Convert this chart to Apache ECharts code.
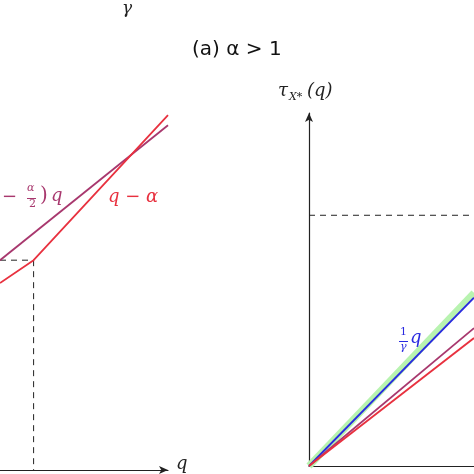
<!DOCTYPE html>
<html><head><meta charset="utf-8">
<script src="https://cdn.jsdelivr.net/npm/echarts@6/dist/echarts.min.js"></script>
<style>html,body{margin:0;background:#fff}#c{width:474px;height:474px}</style>
</head><body><div id="c"></div>
<script>
// left panel (b): q axis, kink at q=3
var leftPurple = [[2, 6.25], [7, 10.27]];
var leftRed = [[2, 5.57], [3, 6.25], [7, 10.57]];
var leftDashH = [[2, 6.25], [3, 6.25]];
var leftDashV = [[3, 6.25], [3, 0]];
// right panel (a): lines through origin
var rightGreen = [[0, 0], [5.2, 5.25]];
var rightBlue = [[0, 0], [5.2, 5.1]];
var rightPurple = [[0, 0], [5.2, 4.18]];
var rightRed = [[0, 0], [5.2, 3.88]];
var rightDash = [[0, 7.6], [5.2, 7.6]];

var purple = '#a8386e', red = '#e8313f', blue = '#2a2ae0';
var chart = echarts.init(document.getElementById('c'));
function ln(data, color, w, gi, dash) {
    return {type: 'line', data: data, xAxisIndex: gi, yAxisIndex: gi, symbol: 'none', silent: true,
        lineStyle: {color: color, width: w, type: dash ? [6, 5] : 'solid'}};
}
var math = 'DejaVu Serif';
chart.setOption({
    animation: false,
    grid: [
        {left: 0, top: 0, width: 168, height: 470},
        {left: 309, top: 113, width: 172, height: 353}
    ],
    xAxis: [
        {type: 'value', gridIndex: 0, min: 2, max: 7, splitLine: {show: false}, axisTick: {show: false}, axisLabel: {show: false},
            axisLine: {lineStyle: {color: '#222', width: 1.2}, symbol: ['none', 'arrow'], symbolSize: [6, 9]}},
        {type: 'value', gridIndex: 1, min: 0, max: 5.2, splitLine: {show: false}, axisTick: {show: false}, axisLabel: {show: false},
            axisLine: {lineStyle: {color: '#222', width: 1.2}}}
    ],
    yAxis: [
        {type: 'value', gridIndex: 0, min: 0, max: 14, show: false},
        {type: 'value', gridIndex: 1, min: 0, max: 10.7, splitLine: {show: false}, axisTick: {show: false}, axisLabel: {show: false},
            axisLine: {lineStyle: {color: '#222', width: 1.2}, symbol: ['none', 'arrow'], symbolSize: [6, 9]}}
    ],
    series: [
        ln(leftDashH, '#222', 1, 0, true),
        ln(leftDashV, '#222', 1, 0, true),
        ln(leftPurple, purple, 1.8, 0),
        ln(leftRed, red, 1.8, 0),
        ln(rightDash, '#222', 1, 1, true),
        ln(rightGreen, '#b8f3b0', 7, 1),
        ln(rightBlue, blue, 1.8, 1),
        ln(rightPurple, purple, 1.8, 1),
        ln(rightRed, red, 1.8, 1)
    ],
    graphic: [
        {type: 'text', left: 122, top: 0, style: {text: 'γ', font: 'italic 17px ' + math, fill: '#222'}},
        {type: 'text', left: 192, top: 40, style: {text: '(a) α > 1', font: '20px DejaVu Sans', fill: '#111'}},
        {type: 'text', left: 278, top: 82, style: {text: 'τ', font: 'italic 18px ' + math, fill: '#222'}},
        {type: 'text', left: 289, top: 92, style: {text: 'X*', font: 'italic 11px ' + math, fill: '#222'}},
        {type: 'text', left: 307, top: 82, style: {text: '(q)', font: 'italic 18px ' + math, fill: '#222'}},
        {type: 'text', left: 176, top: 455, style: {text: 'q', font: 'italic 18px ' + math, fill: '#222'}},
        {type: 'text', left: 2, top: 188, style: {text: '− ', font: '18px ' + math, fill: purple}},
        {type: 'text', left: 27, top: 183, style: {text: 'α', font: 'italic 11px ' + math, fill: purple}},
        {type: 'text', left: 29, top: 199, style: {text: '2', font: '11px ' + math, fill: purple}},
        {type: 'rect', shape: {x: 27, y: 198, width: 9, height: 1}, style: {fill: purple}},
        {type: 'text', left: 40, top: 186, style: {text: ')', font: '20px ' + math, fill: purple}},
        {type: 'text', left: 51, top: 187, style: {text: 'q', font: 'italic 18px ' + math, fill: purple}},
        {type: 'text', left: 108, top: 188, style: {text: 'q − α', font: 'italic 18px ' + math, fill: red}},
        {type: 'text', left: 400, top: 327, style: {text: '1', font: '11px ' + math, fill: blue}},
        {type: 'rect', shape: {x: 399, y: 341, width: 9, height: 1}, style: {fill: blue}},
        {type: 'text', left: 400, top: 342, style: {text: 'γ', font: 'italic 11px ' + math, fill: blue}},
        {type: 'text', left: 410, top: 329, style: {text: 'q', font: 'italic 18px ' + math, fill: blue}}
    ]
});
</script></body></html>
